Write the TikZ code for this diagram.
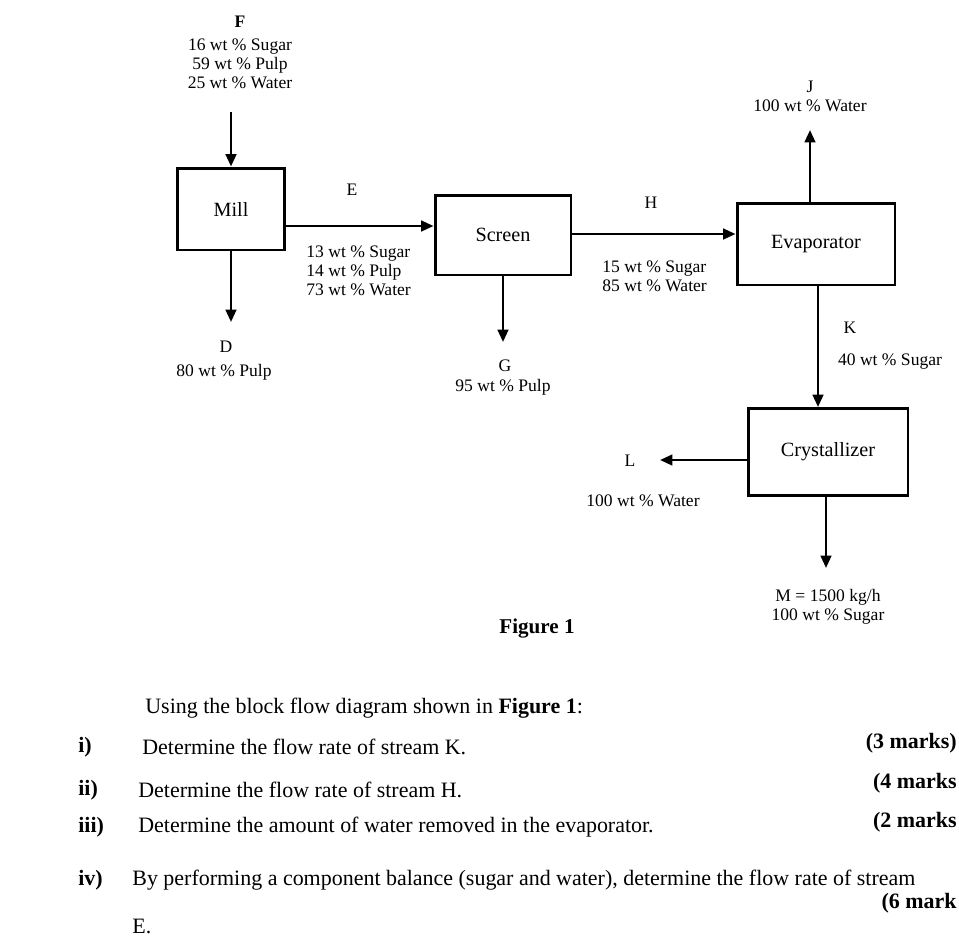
\documentclass[tikz,border=0pt]{standalone}
\usepackage{fontspec}
\setmainfont{Liberation Serif}
\usetikzlibrary{arrows.meta,positioning}
\begin{document}
\begin{tikzpicture}[x=0.02cm,y=-0.02cm,
    unit/.style={draw,line width=1.7pt,minimum width=#1,inner sep=0pt,font=\fontsize{11.5}{13}\selectfont},
    flow/.style={line width=1.4pt,-{Triangle[length=7pt,width=6pt]}},
    lbl/.style={font=\fontsize{10}{10.8}\selectfont,align=center,inner sep=0pt},
    txt/.style={font=\fontsize{12.5}{15}\selectfont,anchor=west,inner sep=0pt},
    marks/.style={font=\fontsize{12.5}{15}\selectfont\bfseries,anchor=east,inner sep=0pt}
  ]
  \useasboundingbox (0,0) rectangle (959,948);

  % units
  \node[unit=2.14cm,minimum height=1.64cm] (mill) at (231,209) {Mill};
  \node[unit=2.72cm,minimum height=1.6cm] (screen) at (503,235) {Screen};
  \node[unit=3.16cm,minimum height=1.64cm] (evap) at (816,244) {Evaporator};
  \node[unit=3.2cm,minimum height=1.74cm] (cryst) at (828,452) {Crystallizer};

  % free ends of the streams
  \coordinate (fin) at (231,112);
  \coordinate (dout) at (231,322);
  \coordinate (gout) at (503,342);
  \coordinate (jout) at (810,130);
  \coordinate (lout) at (660,460);
  \coordinate (mout) at (826,568);

  % streams
  \draw[flow] (fin) -- (mill);
  \draw[flow] (mill.south) -- (dout);
  \draw[flow] (mill.east |- 0,226) -- (screen.west |- 0,226);
  \draw[flow] (screen.south) -- (gout);
  \draw[flow] (screen.east |- 0,234) -- (evap.west |- 0,234);
  \draw[flow] (evap.north -| jout) -- (jout);
  \draw[flow] (evap.south -| 818,0) -- (cryst.north -| 818,0);
  \draw[flow] (cryst.west |- lout) -- (lout);
  \draw[flow] (cryst.south -| mout) -- (mout);

  % stream labels
  \node[lbl,font=\fontsize{10}{11}\selectfont\bfseries] (fname) at (240,22) {F};
  \node[lbl] (fcomp) at (240,64) {16 wt \% Sugar\\59 wt \% Pulp\\25 wt \% Water};
  \node[lbl] (jname) at (810,87) {J};
  \node[lbl] (jcomp) at (810,106) {100 wt \% Water};
  \node[lbl] (ename) at (352,190) {E};
  \node[lbl,align=left,anchor=west] (ecomp) at (306,271) {13 wt \% Sugar\\14 wt \% Pulp\\73 wt \% Water};
  \node[lbl] (hname) at (651,203) {H};
  \node[lbl,align=left,anchor=west] (hcomp) at (602,276) {15 wt \% Sugar\\85 wt \% Water};
  \node[lbl] (dname) at (226,347) {D};
  \node[lbl] (dcomp) at (224,372) {80 wt \% Pulp};
  \node[lbl] (gname) at (505,366) {G};
  \node[lbl] (gcomp) at (503,387) {95 wt \% Pulp};
  \node[lbl] (kname) at (850,328) {K};
  \node[lbl] (kcomp) at (890,362) {40 wt \% Sugar};
  \node[lbl] (lname) at (630,461) {L};
  \node[lbl] (lcomp) at (643,501) {100 wt \% Water};
  \node[lbl] (mcomp) at (828,607) {M = 1500 kg/h\\100 wt \% Sugar};
  \node[lbl,font=\fontsize{12}{14}\selectfont\bfseries] (fig) at (537,628) {Figure 1};

  % question text
  \node[txt] (intro) at (145,708) {Using the block flow diagram shown in \textbf{Figure 1}:};
  \node[txt,font=\fontsize{12.5}{15}\selectfont\bfseries] (n1) at (78,747) {i)};
  \node[txt] (q1) at (142,747) {Determine the flow rate of stream K.};
  \node[marks] (m1) at (957,743) {(3 marks)};
  \node[txt,font=\fontsize{12.5}{15}\selectfont\bfseries] (n2) at (78,790) {ii)};
  \node[txt] (q2) at (138,790) {Determine the flow rate of stream H.};
  \node[marks] (m2) at (957,783) {(4 marks};
  \node[txt,font=\fontsize{12.5}{15}\selectfont\bfseries] (n3) at (78,827) {iii)};
  \node[txt] (q3) at (138,827) {Determine the amount of water removed in the evaporator.};
  \node[marks] (m3) at (957,822) {(2 marks};
  \node[txt,font=\fontsize{12.5}{15}\selectfont\bfseries] (n4) at (78,880) {iv)};
  \node[txt] (q4) at (132,880) {By performing a component balance (sugar and water), determine the flow rate of stream};
  \node[marks] (m4) at (957,903) {(6 mark};
  \node[txt] (q4b) at (132,926) {E.};
\end{tikzpicture}
\end{document}
